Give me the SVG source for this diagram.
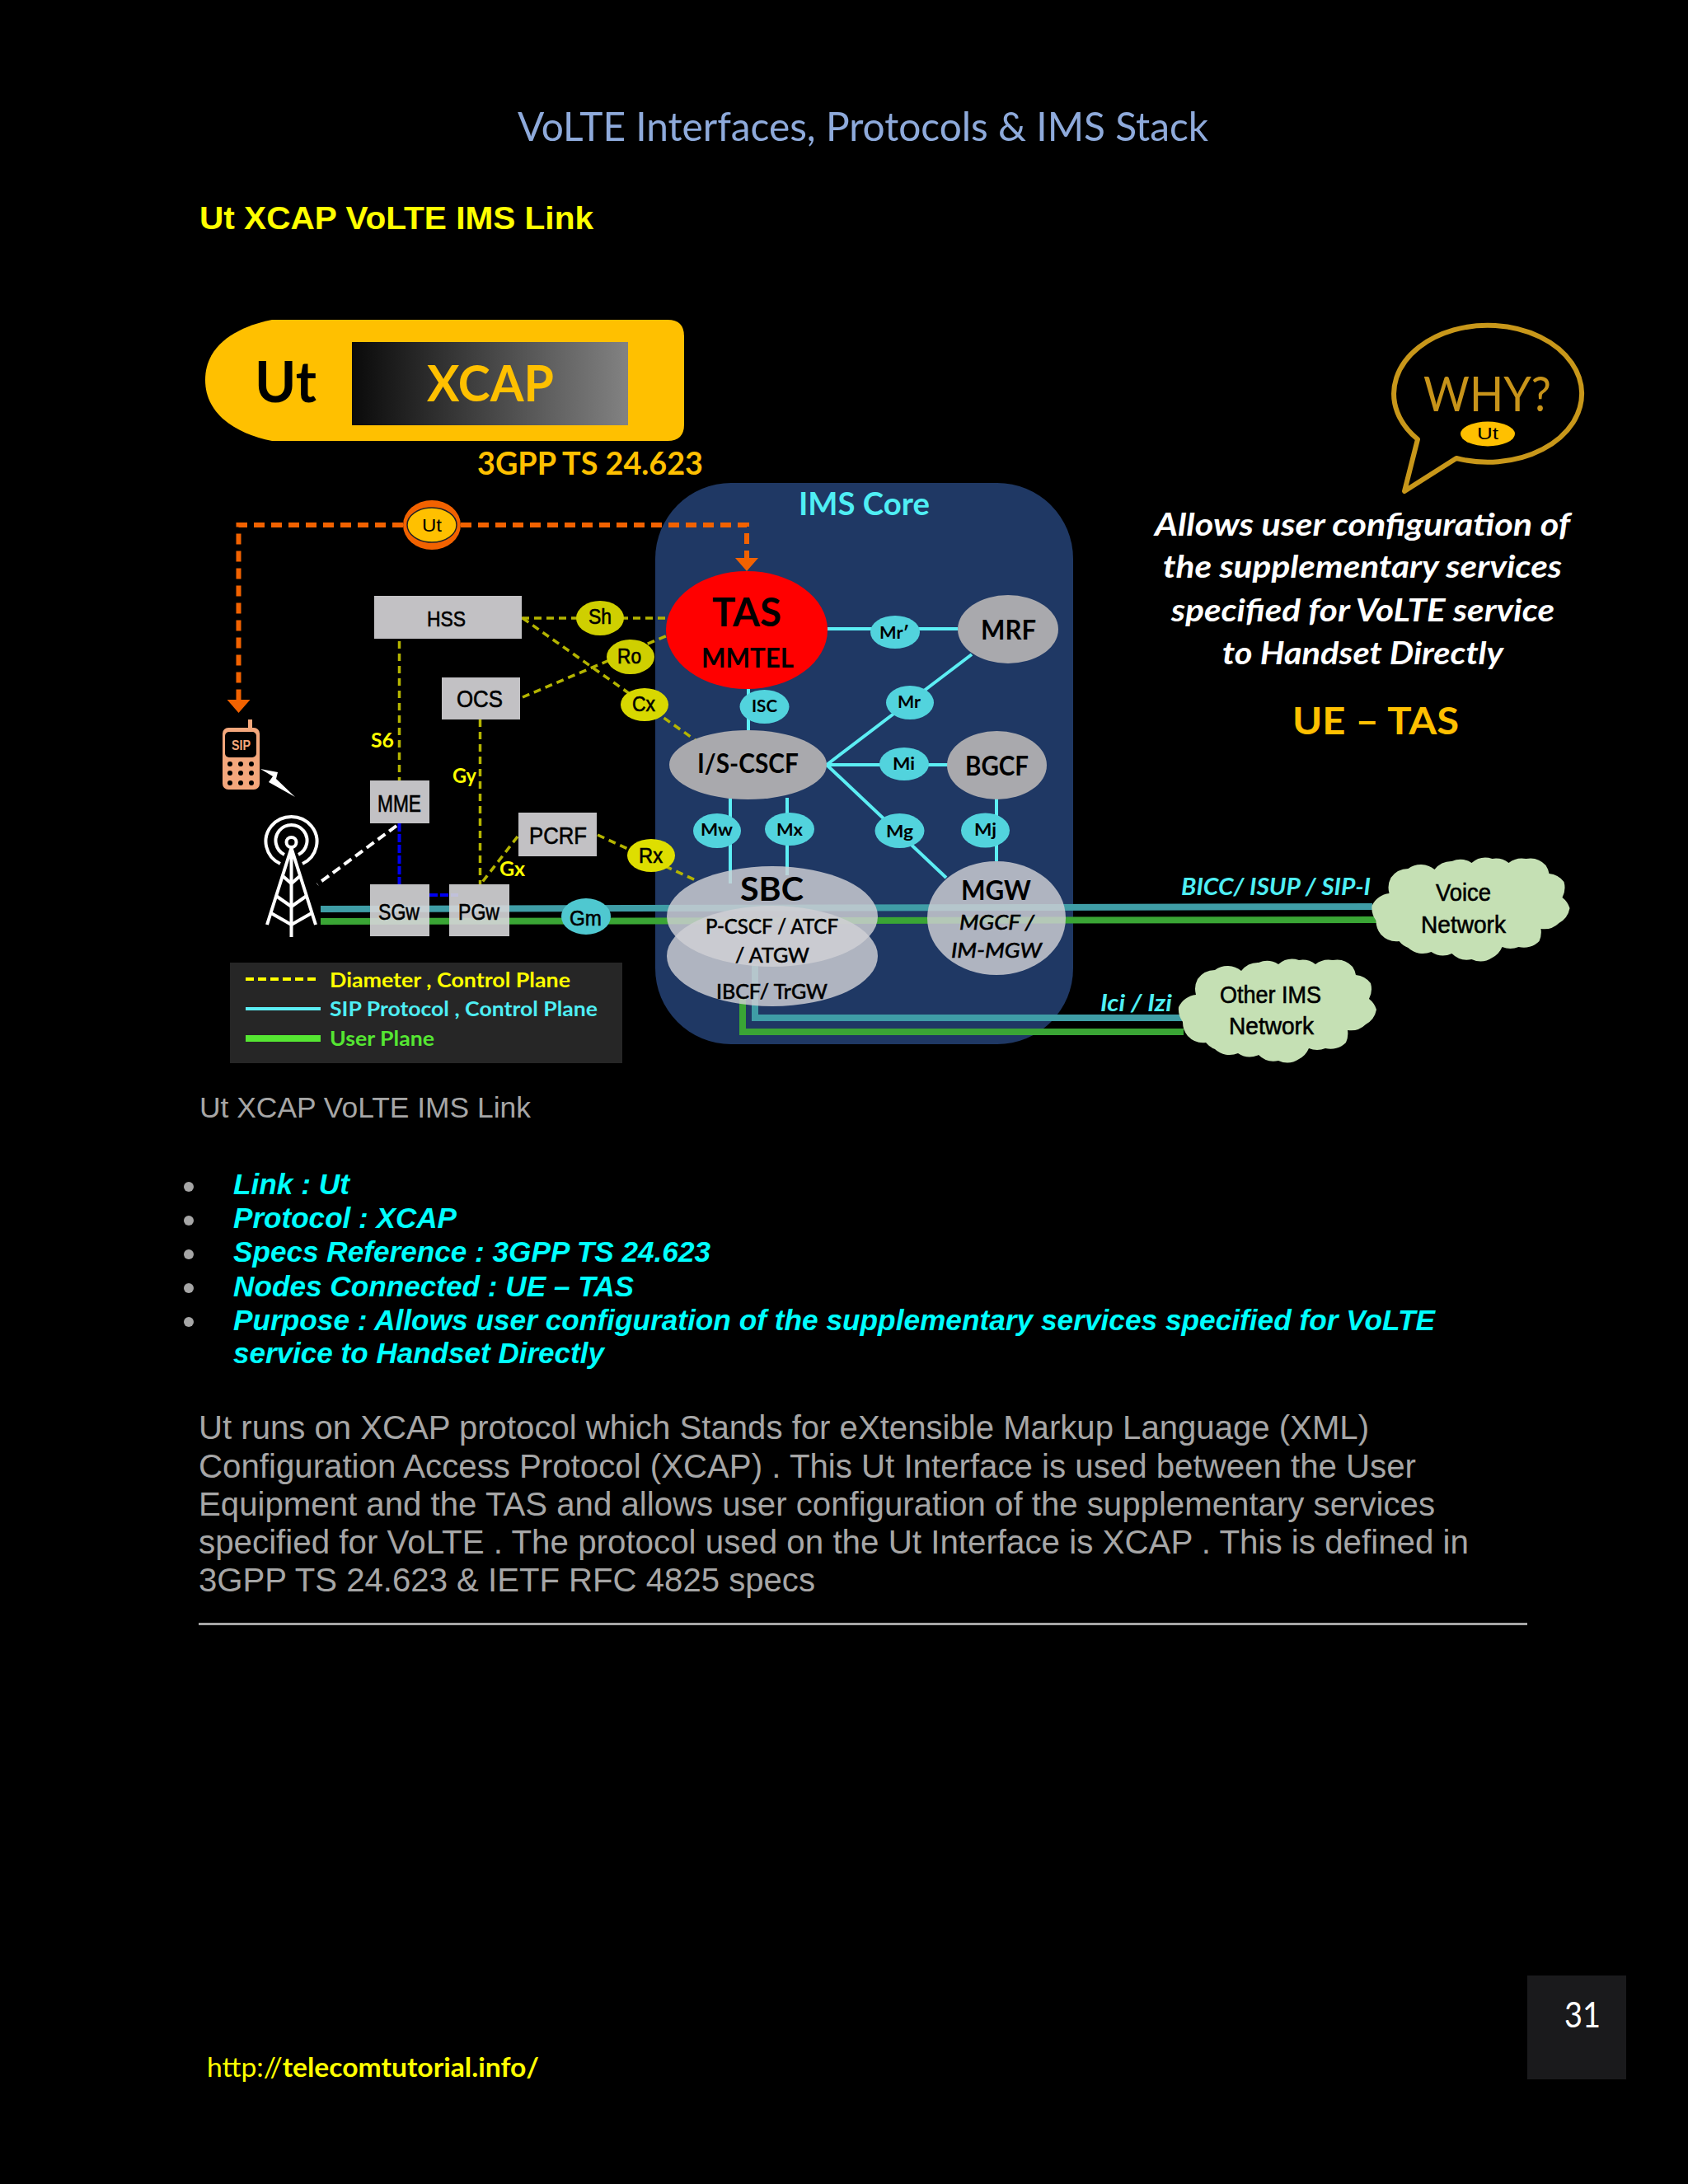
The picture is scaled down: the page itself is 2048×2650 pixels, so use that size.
<svg xmlns="http://www.w3.org/2000/svg" width="2048" height="2650" viewBox="0 0 2048 2650">
<style>
text{white-space:pre}
.l{font-family:Lato,"Liberation Sans",sans-serif}
.b{font-weight:700}
.i{font-style:italic}
.a{font-family:"Liberation Sans",Arial,sans-serif}
.k{fill:#000}
.sb{stroke:#000;stroke-width:.6}
.dia{fill:none;stroke:#b4b400;stroke-width:3.5;stroke-dasharray:9 6}
.sip{fill:none;stroke:#5ceef4;stroke-width:4}
.ut{fill:none;stroke:#f26200;stroke-width:6;stroke-dasharray:13 8}
.blue{fill:none;stroke:#0000f0;stroke-width:4;stroke-dasharray:10 3}
.teal{fill:none;stroke:#3f9da6;stroke-width:8}
.green{fill:none;stroke:#3aa535;stroke-width:8}
.box{fill:#c2c1c4}
.tbox{fill:#d6d6d8;opacity:.9}
.grey{fill:#a9a9ad}
.cy{fill:#52d3dd}
.ye{fill:#cfcf00}
.cloud{fill:#c5e0b4}
.sbc{fill:#d0d0d4;opacity:.82}
.body{fill:#a6a6a6}
.bul{fill:#00ffff}
.tower{fill:none;stroke:#fff;stroke-width:4}
</style>
<defs>
<linearGradient id="xg" x1="0" y1="0" x2="1" y2="0"><stop offset="0" stop-color="#0a0a0a"/><stop offset="1" stop-color="#828282"/></linearGradient>
<marker id="arr" markerUnits="userSpaceOnUse" markerWidth="16" markerHeight="28" refX="0" refY="14" orient="auto"><path d="M0,0L16,14L0,28z" fill="#f26200"/></marker>
<path id="cl" d="M0,57A26 26 0 0 1 21,42A26 26 0 0 1 23,23A26 26 0 0 1 44,12A26 26 0 0 1 76,13A26 26 0 0 1 97,3A26 26 0 0 1 121,5A26 26 0 0 1 146,0A26 26 0 0 1 166,5A26 26 0 0 1 187,0A26 26 0 0 1 211,8A26 26 0 0 1 215,18A26 26 0 0 1 233,28A26 26 0 0 1 231,47A26 26 0 0 1 240,60A26 26 0 0 1 227,78A26 26 0 0 1 205,85A26 26 0 0 1 203,100A26 26 0 0 1 178,107A26 26 0 0 1 158,107A26 26 0 0 1 146,120A26 26 0 0 1 121,122A26 26 0 0 1 97,115A26 26 0 0 1 72,113A26 26 0 0 1 44,108A26 26 0 0 1 33,100A26 26 0 0 1 11,92A26 26 0 0 1 5,75A26 26 0 0 1 0,57z"/>
</defs>
<rect width="2048" height="2650" fill="#000"/>

<text class="l" x="628" y="171" font-size="49" fill="#8eaadb" textLength="838" lengthAdjust="spacingAndGlyphs">VoLTE Interfaces, Protocols &amp; IMS Stack</text>
<text class="a b" x="242" y="278" font-size="39" fill="#ffff00" textLength="478" lengthAdjust="spacingAndGlyphs">Ut XCAP VoLTE IMS Link</text>

<g id="banner">
<path d="M330,388H810Q830,388 830,408V515Q830,535 810,535H330C290,527 249,505 249,461C249,417 290,396 330,388z" fill="#ffc000"/>
<rect x="427" y="415" width="335" height="101" fill="url(#xg)"/>
<text class="l b k" x="309" y="488" font-size="68" textLength="75" lengthAdjust="spacingAndGlyphs">Ut</text>
<text class="l b" x="518" y="487" font-size="62" fill="#ffc000" textLength="154" lengthAdjust="spacingAndGlyphs">XCAP</text>
<text class="l b" x="579" y="576" font-size="39" fill="#ffc000" textLength="274" lengthAdjust="spacingAndGlyphs">3GPP TS 24.623</text>
</g>

<g id="ims-core">
<rect x="795" y="586" width="507" height="681" rx="92" ry="92" fill="#1f3864"/>
<text class="l b" x="969" y="625" font-size="38" fill="#4feef4" textLength="159" lengthAdjust="spacingAndGlyphs">IMS Core</text>
</g>

<g id="connectors">
<path class="ut" d="M489,637H289.5V849" marker-end="url(#arr)"/>
<path class="ut" d="M559,637H906V677" marker-end="url(#arr)"/>
<path class="dia" d="M484.5,763V947"/>
<path class="dia" d="M633,750H812"/>
<path class="dia" d="M634,750L845,899"/>
<path class="dia" d="M634,846L812,770"/>
<path class="dia" d="M582.5,873V1073"/>
<path class="dia" d="M628,1015L583,1073"/>
<path class="dia" d="M725,1013L846,1069"/>
<path class="blue" d="M484.5,999V1073"/>
<path class="blue" d="M521,1086H556"/>
<path d="M481,1002L385,1073" fill="none" stroke="#fff" stroke-width="4" stroke-dasharray="11 6"/>
<path class="teal" d="M389,1103L1665,1100"/>
<path class="green" d="M389,1118L1670,1116"/>
<path class="teal" d="M916,1170V1235H1440"/>
<path class="green" d="M901,1210V1252H1436"/>
<path class="sip" d="M1004,763H1162"/>
<path class="sip" d="M908,836V886"/>
<path class="sip" d="M1003,928L1179,794"/>
<path class="sip" d="M1003,928H1150"/>
<path class="sip" d="M1003,928L1148,1065"/>
<path class="sip" d="M886,968V1072"/>
<path class="sip" d="M955,968V1062"/>
<path class="sip" d="M1209,968V1045"/>
</g>

<g id="ut-badge">
<ellipse cx="524" cy="637" rx="35" ry="30" fill="#f26200"/>
<ellipse cx="524" cy="637" rx="30" ry="21" fill="#ffc000" stroke="#222" stroke-width="1.5"/>
<text class="a k" x="512" y="645" font-size="22" textLength="24" lengthAdjust="spacingAndGlyphs">Ut</text>
</g>

<g id="hss"><rect class="box" x="454" y="723" width="179" height="52"/><text class="a k sb" x="518" y="760" font-size="26" textLength="47" lengthAdjust="spacingAndGlyphs">HSS</text></g>
<g id="ocs"><rect class="box" x="536" y="822" width="95" height="51"/><text class="a k sb" x="554" y="858" font-size="29" textLength="56" lengthAdjust="spacingAndGlyphs">OCS</text></g>
<g id="mme"><rect class="box" x="449" y="947" width="72" height="52"/><text class="a k sb" x="458" y="985" font-size="29" textLength="53" lengthAdjust="spacingAndGlyphs">MME</text></g>
<g id="pcrf"><rect class="box" x="629" y="986" width="95" height="53"/><text class="a k sb" x="642" y="1024" font-size="29" textLength="70" lengthAdjust="spacingAndGlyphs">PCRF</text></g>
<g id="sgw"><rect class="tbox" x="449" y="1073" width="72" height="63"/><text class="a k sb" x="459" y="1116" font-size="28" textLength="50" lengthAdjust="spacingAndGlyphs">SGw</text></g>
<g id="pgw"><rect class="tbox" x="545" y="1073" width="73" height="63"/><text class="a k sb" x="556" y="1116" font-size="28" textLength="50" lengthAdjust="spacingAndGlyphs">PGw</text></g>

<g id="link-labels">
<ellipse class="ye" cx="728" cy="750" rx="29" ry="21"/><text class="a k sb" x="714" y="757" font-size="25" textLength="28" lengthAdjust="spacingAndGlyphs">Sh</text>
<ellipse class="ye" cx="765" cy="797" rx="29" ry="21"/><text class="a k sb" x="749" y="805" font-size="25" textLength="29" lengthAdjust="spacingAndGlyphs">Ro</text>
<ellipse cx="782" cy="855" rx="29" ry="20" fill="#d8d800"/><text class="a k sb" x="767" y="863" font-size="25" textLength="28" lengthAdjust="spacingAndGlyphs">Cx</text>
<ellipse cx="790" cy="1038" rx="29" ry="20" fill="#dede00"/><text class="a k sb" x="775" y="1047" font-size="25" textLength="29" lengthAdjust="spacingAndGlyphs">Rx</text>
<ellipse cx="711" cy="1112" rx="30" ry="22" fill="#4fc8d0"/><text class="a k sb" x="691" y="1123" font-size="26" textLength="39" lengthAdjust="spacingAndGlyphs">Gm</text>
<text class="l b" x="450" y="907" font-size="24" fill="#ffff00" textLength="28" lengthAdjust="spacingAndGlyphs">S6</text>
<text class="l b" x="549" y="950" font-size="24" fill="#ffff00" textLength="29" lengthAdjust="spacingAndGlyphs">Gy</text>
<text class="l b" x="606" y="1063" font-size="24" fill="#ffff00" textLength="31" lengthAdjust="spacingAndGlyphs">Gx</text>
<ellipse class="cy" cx="1086" cy="767" rx="30" ry="20"/><text class="l b k" x="1067" y="775" font-size="21" textLength="36" lengthAdjust="spacingAndGlyphs">Mr′</text>
<ellipse class="cy" cx="927.5" cy="857.5" rx="30" ry="20.5"/><text class="l b k" x="912" y="864" font-size="21" textLength="31" lengthAdjust="spacingAndGlyphs">ISC</text>
<ellipse class="cy" cx="1104" cy="852.5" rx="29" ry="20.5"/><text class="l b k" x="1089" y="859" font-size="21" textLength="28" lengthAdjust="spacingAndGlyphs">Mr</text>
<ellipse class="cy" cx="1097" cy="927" rx="30" ry="20"/><text class="l b k" x="1083" y="934" font-size="21" textLength="27" lengthAdjust="spacingAndGlyphs">Mi</text>
<ellipse class="cy" cx="870" cy="1008" rx="29" ry="21"/><text class="l b k" x="850" y="1014" font-size="21" textLength="39" lengthAdjust="spacingAndGlyphs">Mw</text>
<ellipse class="cy" cx="958" cy="1006" rx="30" ry="20"/><text class="l b k" x="942" y="1014" font-size="21" textLength="32" lengthAdjust="spacingAndGlyphs">Mx</text>
<ellipse class="cy" cx="1091.5" cy="1008" rx="30" ry="21"/><text class="l b k" x="1075" y="1016" font-size="21" textLength="33" lengthAdjust="spacingAndGlyphs">Mg</text>
<ellipse class="cy" cx="1195.5" cy="1007.5" rx="29.5" ry="21"/><text class="l b k" x="1182" y="1014" font-size="21" textLength="27" lengthAdjust="spacingAndGlyphs">Mj</text>
</g>

<g id="tas">
<ellipse cx="906" cy="764.5" rx="98" ry="71.5" fill="#ff0000"/>
<text class="l b k" x="864" y="760" font-size="48" textLength="84" lengthAdjust="spacingAndGlyphs">TAS</text>
<text class="l b k" x="851" y="810" font-size="32" textLength="112" lengthAdjust="spacingAndGlyphs">MMTEL</text>
</g>
<g id="mrf"><ellipse class="grey" cx="1223" cy="763.5" rx="61" ry="41.5"/><text class="l b k" x="1190" y="776" font-size="33" textLength="67" lengthAdjust="spacingAndGlyphs">MRF</text></g>
<g id="cscf"><ellipse class="grey" cx="907.5" cy="928" rx="95.5" ry="42"/><text class="l b k" x="846" y="938" font-size="32" textLength="123" lengthAdjust="spacingAndGlyphs">I/S-CSCF</text></g>
<g id="bgcf"><ellipse class="grey" cx="1209.5" cy="928.5" rx="60.5" ry="41.5"/><text class="l b k" x="1171" y="941" font-size="33" textLength="77" lengthAdjust="spacingAndGlyphs">BGCF</text></g>
<g id="sbc">
<ellipse class="sbc" cx="937" cy="1160" rx="128" ry="61"/>
<ellipse class="sbc" cx="937" cy="1112" rx="128" ry="61"/>
<text class="l b k" x="898" y="1093" font-size="40" textLength="77" lengthAdjust="spacingAndGlyphs">SBC</text>
<text class="l k sb" x="856" y="1133" font-size="25" textLength="161" lengthAdjust="spacingAndGlyphs">P-CSCF / ATCF</text>
<text class="l k sb" x="892" y="1168" font-size="25" textLength="90" lengthAdjust="spacingAndGlyphs">/ ATGW</text>
<text class="l k sb" x="869" y="1212" font-size="25" textLength="135" lengthAdjust="spacingAndGlyphs">IBCF/ TrGW</text>
</g>
<g id="mgw">
<ellipse class="sbc" cx="1209" cy="1114" rx="84" ry="69"/>
<text class="l b k" x="1166" y="1092" font-size="32" textLength="85" lengthAdjust="spacingAndGlyphs">MGW</text>
<text class="l i k sb" x="1164" y="1128" font-size="25" textLength="91" lengthAdjust="spacingAndGlyphs">MGCF /</text>
<text class="l i k sb" x="1154" y="1162" font-size="25" textLength="110" lengthAdjust="spacingAndGlyphs">IM-MGW</text>
</g>

<g id="voice-network">
<use href="#cl" x="1664.5" y="1042" class="cloud"/>
<text class="a k sb" x="1742" y="1093" font-size="29" textLength="67" lengthAdjust="spacingAndGlyphs">Voice</text>
<text class="a k sb" x="1724" y="1132" font-size="29" textLength="103" lengthAdjust="spacingAndGlyphs">Network</text>
</g>
<g id="other-ims">
<use href="#cl" x="1430" y="1165" class="cloud"/>
<text class="a k sb" x="1480" y="1217" font-size="29" textLength="123" lengthAdjust="spacingAndGlyphs">Other IMS</text>
<text class="a k sb" x="1491" y="1255" font-size="29" textLength="103" lengthAdjust="spacingAndGlyphs">Network</text>
</g>
<text class="l b i" x="1433" y="1086" font-size="28" fill="#4feef4" textLength="230" lengthAdjust="spacingAndGlyphs">BICC/ ISUP / SIP-I</text>
<text class="l b i" x="1335" y="1227" font-size="28" fill="#4feef4" textLength="87" lengthAdjust="spacingAndGlyphs">Ici / Izi</text>

<g id="ue">
<rect x="301" y="873" width="5" height="14" fill="#f4a77c"/>
<rect x="270" y="883" width="45" height="75" rx="7" fill="#f4a77c"/>
<rect x="273" y="888" width="38" height="31" rx="5" fill="#000"/>
<text class="a b" x="281" y="910" font-size="16" fill="#f4a77c" textLength="23" lengthAdjust="spacingAndGlyphs">SIP</text>
<g fill="#000"><circle cx="279" cy="927" r="3"/><circle cx="292" cy="927" r="3"/><circle cx="305" cy="927" r="3"/><circle cx="279" cy="938" r="3"/><circle cx="292" cy="938" r="3"/><circle cx="305" cy="938" r="3"/><circle cx="279" cy="950" r="3"/><circle cx="292" cy="950" r="3"/><circle cx="305" cy="950" r="3"/></g>
<path d="M316,933L337,937L335,945L358,967L326,949L331,942z" fill="#fff"/>
</g>
<g id="enodeb" class="tower">
<circle cx="353.5" cy="1022" r="6"/>
<path d="M340,1048A31 30 0 1 1 367,1048"/>
<path d="M345,1037A19 19 0 1 1 362,1037"/>
<path d="M353.5,1029L324,1122M353.5,1029L383,1122M353.5,1029V1137"/>
<path d="M342,1062L353.5,1072L365,1062M335,1087L353.5,1100L372,1087M329,1108L353.5,1122L378,1108"/>
</g>

<g id="legend">
<rect x="279" y="1168" width="476" height="122" fill="#262626"/>
<path d="M298,1188H386" fill="none" stroke="#ffff00" stroke-width="4" stroke-dasharray="10 5"/>
<path d="M298,1224H389" fill="none" stroke="#5ceef4" stroke-width="4"/>
<path d="M298,1260H389" fill="none" stroke="#55e632" stroke-width="8"/>
<text class="l b" x="400" y="1198" font-size="24" fill="#ffff00" textLength="292" lengthAdjust="spacingAndGlyphs">Diameter , Control Plane</text>
<text class="l b" x="400" y="1233" font-size="24" fill="#4feef4" textLength="325" lengthAdjust="spacingAndGlyphs">SIP Protocol , Control Plane</text>
<text class="l b" x="400" y="1269" font-size="24" fill="#55e632" textLength="127" lengthAdjust="spacingAndGlyphs">User Plane</text>
</g>

<g id="why">
<path d="M1767,556L1704,596L1720,533A114 83 0 1 1 1767,556z" fill="none" stroke="#c8971a" stroke-width="6" stroke-linejoin="round"/>
<text class="l" x="1727" y="499" font-size="58" fill="#c8941a" textLength="155" lengthAdjust="spacingAndGlyphs">WHY?</text>
<ellipse cx="1805" cy="526.5" rx="33" ry="15" fill="#ffc000"/>
<text class="a k" x="1792" y="533" font-size="20" textLength="26" lengthAdjust="spacingAndGlyphs">Ut</text>
</g>
<g id="why-text" fill="#fff">
<text class="l b i" x="1401" y="650" font-size="38" textLength="504" lengthAdjust="spacingAndGlyphs">Allows user configuration of</text>
<text class="l b i" x="1411" y="701" font-size="38" textLength="484" lengthAdjust="spacingAndGlyphs">the supplementary services</text>
<text class="l b i" x="1421" y="754" font-size="38" textLength="465" lengthAdjust="spacingAndGlyphs">specified for VoLTE service</text>
<text class="l b i" x="1483" y="806" font-size="38" textLength="341" lengthAdjust="spacingAndGlyphs">to Handset Directly</text>
</g>
<text class="l b" x="1568" y="891" font-size="46" fill="#ffc000" textLength="202" lengthAdjust="spacingAndGlyphs">UE – TAS</text>

<text class="a body" x="242" y="1356" font-size="35" textLength="402" lengthAdjust="spacingAndGlyphs">Ut XCAP VoLTE IMS Link</text>

<g id="bullets">
<g fill="#a6a6a6"><circle cx="229" cy="1440" r="6"/><circle cx="229" cy="1481" r="6"/><circle cx="229" cy="1522" r="6"/><circle cx="229" cy="1563" r="6"/><circle cx="229" cy="1604" r="6"/></g>
<text class="a b i bul" x="283" y="1449" font-size="35" textLength="141" lengthAdjust="spacingAndGlyphs">Link : Ut</text>
<text class="a b i bul" x="283" y="1490" font-size="35" textLength="271" lengthAdjust="spacingAndGlyphs">Protocol : XCAP</text>
<text class="a b i bul" x="283" y="1531" font-size="35" textLength="579" lengthAdjust="spacingAndGlyphs">Specs Reference : 3GPP TS 24.623</text>
<text class="a b i bul" x="283" y="1573" font-size="35" textLength="486" lengthAdjust="spacingAndGlyphs">Nodes Connected : UE – TAS</text>
<text class="a b i bul" x="283" y="1614" font-size="35" textLength="1458" lengthAdjust="spacingAndGlyphs">Purpose : Allows user configuration of the supplementary services specified for VoLTE</text>
<text class="a b i bul" x="283" y="1654" font-size="35" textLength="450" lengthAdjust="spacingAndGlyphs">service to Handset Directly</text>
</g>

<g id="paragraph">
<text class="a body" x="241" y="1746" font-size="40" textLength="1420" lengthAdjust="spacingAndGlyphs">Ut runs on XCAP protocol which Stands for eXtensible Markup Language (XML)</text>
<text class="a body" x="241" y="1793" font-size="40" textLength="1477" lengthAdjust="spacingAndGlyphs">Configuration Access Protocol (XCAP) . This Ut Interface is used between the User</text>
<text class="a body" x="241" y="1839" font-size="40" textLength="1500" lengthAdjust="spacingAndGlyphs">Equipment and the TAS and allows user configuration of the supplementary services</text>
<text class="a body" x="241" y="1885" font-size="40" textLength="1541" lengthAdjust="spacingAndGlyphs">specified for VoLTE . The protocol used on the Ut Interface is XCAP . This is defined in</text>
<text class="a body" x="241" y="1931" font-size="40" textLength="748" lengthAdjust="spacingAndGlyphs">3GPP TS 24.623 &amp; IETF RFC 4825 specs</text>
</g>
<path d="M241,1970.5H1853" fill="none" stroke="#a6a6a6" stroke-width="3"/>

<g id="page-number">
<rect x="1853" y="2397" width="120" height="126" fill="#1a1a1c"/>
<text class="l" x="1898" y="2460" font-size="42" fill="#fff" textLength="44" lengthAdjust="spacingAndGlyphs">31</text>
</g>
<text class="l" x="251" y="2520" font-size="33" fill="#ffff00" textLength="403" lengthAdjust="spacingAndGlyphs">http://<tspan class="b">telecomtutorial.info/</tspan></text>
</svg>
